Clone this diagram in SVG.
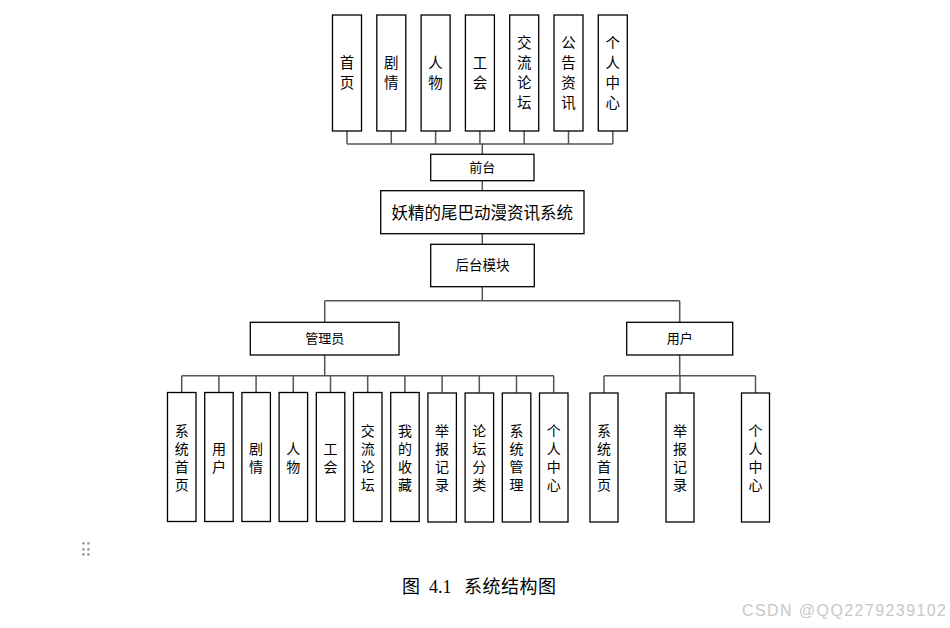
<svg xmlns="http://www.w3.org/2000/svg" width="950" height="628" viewBox="0 0 950 628">
<style>
.box{fill:#fff;stroke:#000;stroke-width:1.3}
.con{fill:none;stroke:#555;stroke-width:1.5}
.t{font-family:"Liberation Sans","Noto Sans CJK SC",sans-serif;fill:#000;text-anchor:middle;dominant-baseline:central}
.vt{font-size:14.5px}
.vb{font-size:14px}
</style>
<rect width="950" height="628" fill="#fff"/>
<g id="connectors">
<path class="con" d="M347 131V144M391.3 131V144M435.6 131V144M479.9 131V144M524.2 131V144M568.5 131V144M612.8 131V144M347 144H612.8M482.3 144V154.3"/>
<path class="con" d="M482.3 180.7V190.7M482.3 233.7V244.3M482.3 286.7V300.7M324.7 300.7H679.7M324.7 300.7V322.3M679.7 300.7V322.3"/>
<path class="con" d="M324.7 355V375.7M181.7 375.7H553.8M181.7 375.7V392.5M218.9 375.7V392.5M256.1 375.7V392.5M293.3 375.7V392.5M330.5 375.7V392.5M367.7 375.7V392.5M404.9 375.7V392.5M442.1 375.7V392.5M479.3 375.7V392.5M516.5 375.7V392.5M553.7 375.7V392.5"/>
<path class="con" d="M679.7 355V375.7M604 375.7H755.5M604 375.7V393M680 375.7V393M755.5 375.7V393"/>
</g>
<g id="top-nodes">
<g id="n-shouye"><rect class="box" x="332.5" y="15" width="29" height="116"/><text class="t vt" x="347"><tspan x="347" y="63">首</tspan><tspan x="347" y="83">页</tspan></text></g>
<g id="n-juqing"><rect class="box" x="376.8" y="15" width="29" height="116"/><text class="t vt"><tspan x="391.3" y="63">剧</tspan><tspan x="391.3" y="83">情</tspan></text></g>
<g id="n-renwu"><rect class="box" x="421.1" y="15" width="29" height="116"/><text class="t vt"><tspan x="435.6" y="63">人</tspan><tspan x="435.6" y="83">物</tspan></text></g>
<g id="n-gonghui"><rect class="box" x="465.4" y="15" width="29" height="116"/><text class="t vt"><tspan x="479.9" y="63">工</tspan><tspan x="479.9" y="83">会</tspan></text></g>
<g id="n-luntan"><rect class="box" x="509.7" y="15" width="29" height="116"/><text class="t vt"><tspan x="524.2" y="43">交</tspan><tspan x="524.2" y="63">流</tspan><tspan x="524.2" y="83">论</tspan><tspan x="524.2" y="103">坛</tspan></text></g>
<g id="n-gonggao"><rect class="box" x="554" y="15" width="29" height="116"/><text class="t vt"><tspan x="568.5" y="43">公</tspan><tspan x="568.5" y="63">告</tspan><tspan x="568.5" y="83">资</tspan><tspan x="568.5" y="103">讯</tspan></text></g>
<g id="n-geren"><rect class="box" x="598.3" y="15" width="29" height="116"/><text class="t vt"><tspan x="612.8" y="43">个</tspan><tspan x="612.8" y="63">人</tspan><tspan x="612.8" y="83">中</tspan><tspan x="612.8" y="103">心</tspan></text></g>
</g>
<g id="n-qiantai"><rect class="box" x="430.7" y="154.3" width="103.3" height="26.4"/><text class="t" x="482.3" y="167.5" font-size="13">前台</text></g>
<g id="n-system"><rect class="box" x="380.7" y="190.7" width="203.3" height="43"/><text class="t" x="482.3" y="212.5" font-size="16.5">妖精的尾巴动漫资讯系统</text></g>
<g id="n-houtai"><rect class="box" x="430.7" y="244.3" width="103.6" height="42.4"/><text class="t" x="482.5" y="265.5" font-size="13.5">后台模块</text></g>
<g id="n-admin"><rect class="box" x="250.3" y="322.3" width="148.7" height="32.7"/><text class="t" x="324.7" y="338.7" font-size="13">管理员</text></g>
<g id="n-user"><rect class="box" x="626.7" y="322.3" width="106" height="32.7"/><text class="t" x="679.7" y="338.7" font-size="13">用户</text></g>
<g id="admin-children">
<g id="a1"><rect class="box" x="167.5" y="392.5" width="28.5" height="129"/><text class="t vb"><tspan x="181.7" y="431">系</tspan><tspan x="181.7" y="449">统</tspan><tspan x="181.7" y="467">首</tspan><tspan x="181.7" y="485">页</tspan></text></g>
<g id="a2"><rect class="box" x="204.7" y="392.5" width="28.5" height="129"/><text class="t vb"><tspan x="218.9" y="449">用</tspan><tspan x="218.9" y="467">户</tspan></text></g>
<g id="a3"><rect class="box" x="241.9" y="392.5" width="28.5" height="129"/><text class="t vb"><tspan x="256.1" y="449">剧</tspan><tspan x="256.1" y="467">情</tspan></text></g>
<g id="a4"><rect class="box" x="279.1" y="392.5" width="28.5" height="129"/><text class="t vb"><tspan x="293.3" y="449">人</tspan><tspan x="293.3" y="467">物</tspan></text></g>
<g id="a5"><rect class="box" x="316.3" y="392.5" width="28.5" height="129"/><text class="t vb"><tspan x="330.5" y="449">工</tspan><tspan x="330.5" y="467">会</tspan></text></g>
<g id="a6"><rect class="box" x="353.5" y="392.5" width="28.5" height="129"/><text class="t vb"><tspan x="367.7" y="431">交</tspan><tspan x="367.7" y="449">流</tspan><tspan x="367.7" y="467">论</tspan><tspan x="367.7" y="485">坛</tspan></text></g>
<g id="a7"><rect class="box" x="390.7" y="392.5" width="28.5" height="129"/><text class="t vb"><tspan x="404.9" y="431">我</tspan><tspan x="404.9" y="449">的</tspan><tspan x="404.9" y="467">收</tspan><tspan x="404.9" y="485">藏</tspan></text></g>
<g id="a8"><rect class="box" x="427.9" y="393" width="28.5" height="129"/><text class="t vb"><tspan x="442.1" y="431">举</tspan><tspan x="442.1" y="449">报</tspan><tspan x="442.1" y="467">记</tspan><tspan x="442.1" y="485">录</tspan></text></g>
<g id="a9"><rect class="box" x="465.1" y="393" width="28.5" height="129"/><text class="t vb"><tspan x="479.3" y="431">论</tspan><tspan x="479.3" y="449">坛</tspan><tspan x="479.3" y="467">分</tspan><tspan x="479.3" y="485">类</tspan></text></g>
<g id="a10"><rect class="box" x="502.3" y="393" width="28.5" height="129"/><text class="t vb"><tspan x="516.5" y="431">系</tspan><tspan x="516.5" y="449">统</tspan><tspan x="516.5" y="467">管</tspan><tspan x="516.5" y="485">理</tspan></text></g>
<g id="a11"><rect class="box" x="539.5" y="393" width="28.5" height="129"/><text class="t vb"><tspan x="553.7" y="431">个</tspan><tspan x="553.7" y="449">人</tspan><tspan x="553.7" y="467">中</tspan><tspan x="553.7" y="485">心</tspan></text></g>
</g>
<g id="user-children">
<g id="u1"><rect class="box" x="590" y="393" width="28" height="129"/><text class="t vb"><tspan x="604" y="431">系</tspan><tspan x="604" y="449">统</tspan><tspan x="604" y="467">首</tspan><tspan x="604" y="485">页</tspan></text></g>
<g id="u2"><rect class="box" x="666" y="393" width="28" height="129"/><text class="t vb"><tspan x="680" y="431">举</tspan><tspan x="680" y="449">报</tspan><tspan x="680" y="467">记</tspan><tspan x="680" y="485">录</tspan></text></g>
<g id="u3"><rect class="box" x="741.5" y="393" width="28" height="129"/><text class="t vb"><tspan x="755.5" y="431">个</tspan><tspan x="755.5" y="449">人</tspan><tspan x="755.5" y="467">中</tspan><tspan x="755.5" y="485">心</tspan></text></g>
</g>
<g id="handle" fill="#888">
<rect x="82.3" y="542.3" width="2.2" height="2.2"/><rect x="87.3" y="542.3" width="2.2" height="2.2"/>
<rect x="82.3" y="548.3" width="2.2" height="2.2"/><rect x="87.3" y="548.3" width="2.2" height="2.2"/>
<rect x="82.3" y="553.3" width="2.2" height="2.2"/><rect x="87.3" y="553.3" width="2.2" height="2.2"/>
</g>
<g id="caption" font-family="'Liberation Serif','Noto Sans CJK SC',serif" font-size="18" fill="#000">
<text x="402" y="593">图</text>
<text x="429" y="593">4.1</text>
<text x="464" y="593" textLength="92">系统结构图</text>
</g>
<text id="watermark" x="742" y="616" font-family="'Liberation Sans',sans-serif" font-size="16" fill="#c8c8c8" textLength="204">CSDN @QQ2279239102</text>
</svg>
